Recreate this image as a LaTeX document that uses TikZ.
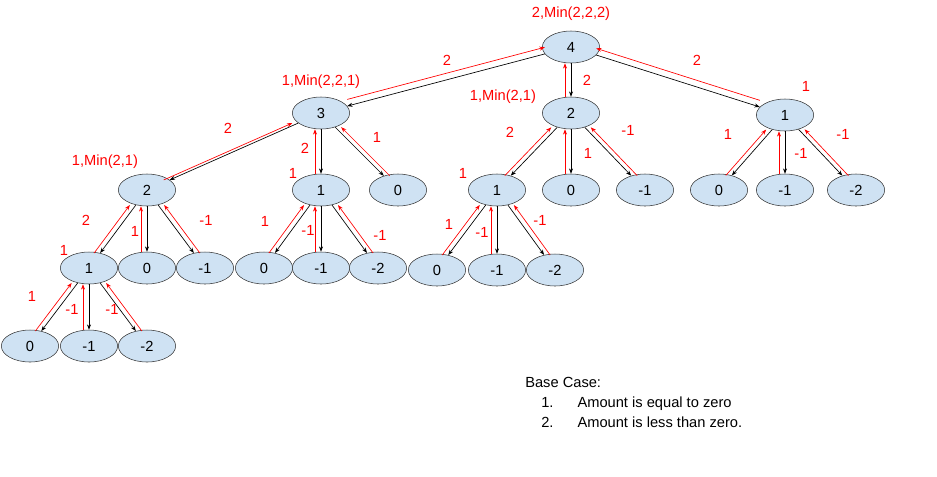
\documentclass[tikz,border=0pt]{standalone}
\usepackage{fontspec}
\setmainfont{Liberation Sans}
\usetikzlibrary{arrows.meta,shapes.geometric}
\definecolor{nodeblue}{HTML}{CFE2F3}
\tikzset{
  val/.style={ellipse,draw=black!80,fill=nodeblue,minimum width=43pt,minimum height=24pt,inner sep=0pt,font=\fontsize{11}{13}\selectfont},
  down/.style={-{Stealth[length=4pt,width=3pt]},line width=0.5pt},
  up/.style={-{Stealth[length=4pt,width=3pt]},red,line width=0.5pt},
  lbl/.style={text=red,font=\fontsize{11}{13}\selectfont}
}
\begin{document}
\begin{tikzpicture}[x=0.75pt,y=-0.75pt]
\useasboundingbox (0,0) rectangle (937,476);
% nodes
\node[val] (r) at (571,47) {4};
\node[val] (a) at (321,113) {3};
\node[val] (b) at (571,113) {2};
\node[val] (c) at (785,115) {1};
\node[val] (aa) at (147,190) {2};
\node[val] (ab) at (321,190) {1};
\node[val] (ac) at (398,190) {0};
\node[val] (ba) at (497,190) {1};
\node[val] (bb) at (571,190) {0};
\node[val] (bc) at (645,190) {-1};
\node[val] (ca) at (719,190) {0};
\node[val] (cb) at (785,190) {-1};
\node[val] (cc) at (856,190) {-2};
\node[val] (aaa) at (89,268) {1};
\node[val] (aab) at (147,268) {0};
\node[val] (aac) at (205,268) {-1};
\node[val] (aba) at (264,268) {0};
\node[val] (abb) at (321,268) {-1};
\node[val] (abc) at (378,268) {-2};
\node[val] (baa) at (437,270) {0};
\node[val] (bab) at (497,270) {-1};
\node[val] (bac) at (555,270) {-2};
\node[val] (x1) at (30,346) {0};
\node[val] (x2) at (89,346) {-1};
\node[val] (x3) at (147,346) {-2};
% calls going down
\foreach \p/\c in {r/a,r/b,r/c,a/aa,a/ab,a/ac,b/ba,b/bb,b/bc,c/ca,c/cb,c/cc,
  aa/aaa,aa/aab,aa/aac,ab/aba,ab/abb,ab/abc,ba/baa,ba/bab,ba/bac,aaa/x1,aaa/x2,aaa/x3}
  \draw[down] (\p) -- (\c);
% values coming back
\foreach \c/\p in {a/r,c/r}
  \draw[up,transform canvas={yshift=5pt}] (\c) -- (\p);
\foreach \c/\p in {b/r,aa/a,ab/a,ba/b,bb/b,ca/c,cb/c,aaa/aa,aab/aa,aba/ab,abb/ab,baa/ba,bab/ba,x1/aaa,x2/aaa}
  \draw[up,transform canvas={xshift=-4.5pt}] (\c) -- (\p);
\foreach \c/\p in {ac/a,bc/b,cc/c,aac/aa,abc/ab,bac/ba,x3/aaa}
  \draw[up,transform canvas={xshift=4.5pt}] (\c) -- (\p);
% labels
\node[lbl] at (571,14) {2,Min(2,2,2)};
\node[lbl] at (447,60) {2};
\node[lbl] at (697,60) {2};
\node[lbl] at (587,80) {2};
\node[lbl] at (321,82) {1,Min(2,2,1)};
\node[lbl] at (503,97) {1,Min(2,1)};
\node[lbl] at (806,86) {1};
\node[lbl] at (228,128) {2};
\node[lbl] at (377,137) {1};
\node[lbl] at (305,148) {2};
\node[lbl] at (510,132) {2};
\node[lbl] at (628,130) {-1};
\node[lbl] at (588,153) {1};
\node[lbl] at (728,134) {1};
\node[lbl] at (801,153) {-1};
\node[lbl] at (843,134) {-1};
\node[lbl] at (105,162) {1,Min(2,1)};
\node[lbl] at (293,173) {1};
\node[lbl] at (463,173) {1};
\node[lbl] at (86,220) {2};
\node[lbl] at (135,231) {1};
\node[lbl] at (206,220) {-1};
\node[lbl] at (265,221) {1};
\node[lbl] at (308,230) {-1};
\node[lbl] at (380,235) {-1};
\node[lbl] at (449,224) {1};
\node[lbl] at (482,232) {-1};
\node[lbl] at (540,220) {-1};
\node[lbl] at (64,250) {1};
\node[lbl] at (32,296) {1};
\node[lbl] at (72,309) {-1};
\node[lbl] at (112,309) {-1};
% base case note
\node[anchor=north west,align=left,inner sep=0pt,font=\fontsize{11}{15}\selectfont] (note) at (525,377)
  {Base Case:\\\hspace*{12pt}1.\hspace{18pt}Amount is equal to zero\\\hspace*{12pt}2.\hspace{18pt}Amount is less than zero.};
\end{tikzpicture}
\end{document}
